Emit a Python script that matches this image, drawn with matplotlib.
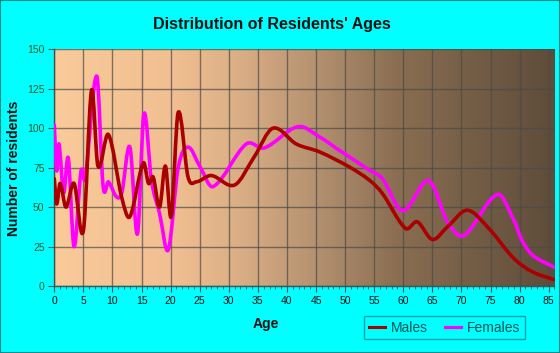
import numpy as np
import matplotlib
matplotlib.use("Agg")
import matplotlib.pyplot as plt
from matplotlib.path import Path
from matplotlib.patches import PathPatch
from matplotlib.colors import LinearSegmentedColormap
from matplotlib.lines import Line2D

plt.rcParams['font.family'] = ['Liberation Sans', 'DejaVu Sans']

# ---- data ----
male_ages = [0, 0.4, 1, 2, 3.4, 5, 6.4, 7.5, 9.3, 11.6, 13, 15.3, 16.2, 17, 18.1, 19.1, 20.1,
             21.3, 23, 24.4, 27, 31, 34.4, 37.6, 41.6, 45.6, 50.7, 54.2, 56.4, 60.4, 62.4,
             65, 67.6, 71, 74.7, 79, 82.2, 85.9]
male_vals = [68, 52, 65, 50, 65, 35, 124, 76, 96, 56, 44, 78, 65, 69, 50, 76, 44,
             110, 69, 66, 70, 64, 82, 100, 90, 85, 75.5, 67, 58.7, 36.5, 40.7,
             29.5, 37.5, 48, 36.5, 17.5, 9, 4]
female_ages = [0, 0.4, 0.8, 1.6, 2.4, 3.4, 4.6, 5.3, 7.3, 8.4, 9.3, 10.7, 11.6, 13, 14.3,
               15.4, 16.7, 18.1, 19.6, 21.3, 23, 25, 27.3, 33, 36.1, 41.9, 45.6, 49, 54.2,
               56.4, 59.9, 64.4, 67.6, 70.4, 76.2, 79, 80.4, 82.2, 85.9]
female_vals = [102, 73, 90, 59, 81, 25, 73, 68, 133, 63, 66, 56.5, 59, 88, 33,
               109, 67, 46, 23, 75, 88, 76, 63, 90, 87.5, 101, 94.5, 86, 73.4,
               68, 47.7, 66.7, 40.7, 32, 58, 41.8, 29, 19.6, 12]
x_ticks = list(range(0, 90, 5))
y_ticks = [0, 25, 50, 75, 100, 125, 150]

W, H = 560, 353
fig = plt.figure(figsize=(W / 100, H / 100), dpi=100, facecolor='#00FFFF')
ax = fig.add_axes([54.3 / W, 1 - 286 / H, (554.5 - 54.3) / W, (286 - 49.3) / H])
ax.set_xlim(0, 86)
ax.set_ylim(0, 150)

# gradient background
stops = [(0.0, '#FACA9A'), (20 / 86, '#F1BF91'), (32 / 86, '#DAAE85'),
         (45 / 86, '#B49170'), (59 / 86, '#8A6E52'), (1.0, '#5E4C3A')]
cmap = LinearSegmentedColormap.from_list('bg', stops)
grad = np.linspace(0, 1, 400).reshape(1, -1)
ax.imshow(grad, cmap=cmap, extent=[0, 86, 0, 150], aspect='auto', zorder=0,
          interpolation='bilinear')

ax.set_xticks(x_ticks)
ax.set_xticks(range(0, 87), minor=True)
ax.set_yticks(y_ticks)
ax.grid(True, which='major', color='#4a4a4a', alpha=0.7, linewidth=1.0, zorder=1)
ax.set_axisbelow(False)


def smooth_path(xs, ys):
    xs = np.asarray(xs, float)
    ys = np.asarray(ys, float)
    n = len(xs)
    m = np.zeros(n)
    for i in range(n):
        if i == 0:
            m[i] = (ys[1] - ys[0]) / (xs[1] - xs[0])
        elif i == n - 1:
            m[i] = (ys[-1] - ys[-2]) / (xs[-1] - xs[-2])
        else:
            m[i] = (ys[i + 1] - ys[i - 1]) / (xs[i + 1] - xs[i - 1])
    verts = [(xs[0], ys[0])]
    codes = [Path.MOVETO]
    for i in range(n - 1):
        dx = xs[i + 1] - xs[i]
        verts += [(xs[i] + dx / 3, ys[i] + m[i] * dx / 3),
                  (xs[i + 1] - dx / 3, ys[i + 1] - m[i + 1] * dx / 3),
                  (xs[i + 1], ys[i + 1])]
        codes += [Path.CURVE4] * 3
    return Path(verts, codes)


male_color = '#AA0000'
female_color = '#FF00FF'
pf = PathPatch(smooth_path(female_ages, female_vals), fill=False, edgecolor=female_color,
               linewidth=2.6, zorder=3, capstyle='round', joinstyle='round')
pm = PathPatch(smooth_path(male_ages, male_vals), fill=False, edgecolor=male_color,
               linewidth=2.6, zorder=4, capstyle='round', joinstyle='round')
ax.add_patch(pf)
ax.add_patch(pm)

for s in ['top', 'right']:
    ax.spines[s].set_visible(False)
for s in ['left', 'bottom']:
    ax.spines[s].set_color('#3a5a5a')
    ax.spines[s].set_linewidth(1.0)
ax.tick_params(axis='both', which='major', length=4, width=0.8, color='#3a5a5a',
               labelsize=7.5, pad=3)
ax.tick_params(axis='x', which='minor', length=2.5, width=0.6, color='#3a5a5a')
ax.tick_params(axis='x', labelcolor='#111111')
ax.tick_params(axis='y', labelcolor='#2a5a2a')

fig.text(272 / W, 1 - 25 / H, "Distribution of Residents' Ages", ha='center', va='center',
         fontsize=11.5, fontweight='bold', color='#111111')
fig.text(14 / W, 1 - 168 / H, 'Number of residents', rotation=90, ha='center', va='center',
         fontsize=10, fontweight='bold', color='#111111')
fig.text(266 / W, 1 - 324 / H, 'Age', ha='center', va='center',
         fontsize=10, fontweight='bold', color='#111111')

handles = [Line2D([], [], color=male_color, linewidth=2.2),
           Line2D([], [], color=female_color, linewidth=2.2)]
leg = fig.legend(handles, ['Males', 'Females'], loc='center',
                 bbox_to_anchor=(444.5 / W, 1 - 327.5 / H), ncol=2, frameon=True,
                 fontsize=10, handlelength=1.2, handletextpad=0.4, columnspacing=1.2,
                 borderpad=0.35, fancybox=False)
leg.get_frame().set_facecolor('#00FFFF')
leg.get_frame().set_edgecolor('#008B8B')
leg.get_frame().set_linewidth(1.0)
for t in leg.get_texts():
    t.set_color('#005555')

# figure border
fig.patches.append(plt.Rectangle((0, 0), 1, 1, transform=fig.transFigure, fill=False,
                                 edgecolor='#008B8B', linewidth=1.5))

fig.savefig('out.png', dpi=100, facecolor=fig.get_facecolor())
